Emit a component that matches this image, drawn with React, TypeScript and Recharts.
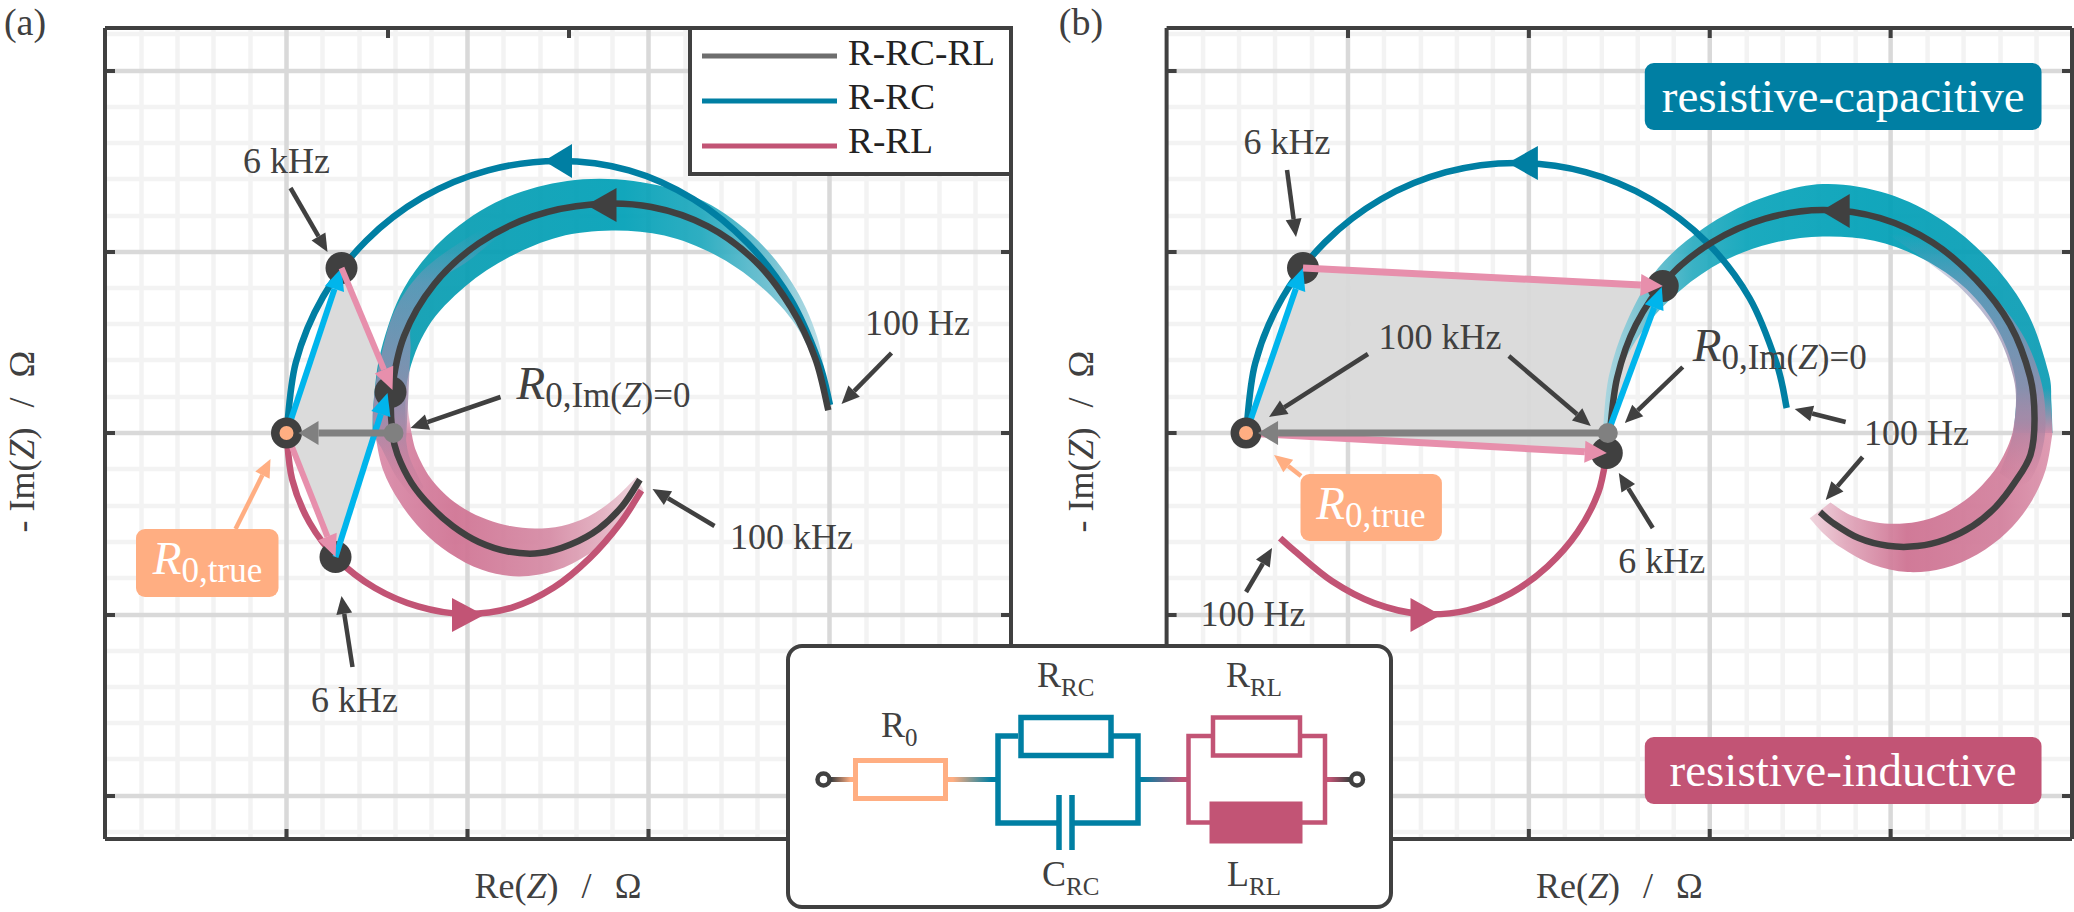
import { ReactNode } from "react";
import {
  CartesianGrid,
  Label,
  Legend,
  ReferenceArea,
  ReferenceDot,
  Scatter,
  ScatterChart,
  XAxis,
  YAxis,
} from "recharts";

// The axes carry no numbers in the figure, so values are in arbitrary units.
type Pair = [number, number];

const majorX = [0, 181, 362, 543];
const majorY = [-363, -182, 0, 181, 362];
const minorX = [-145, -109, -73, -36, 36, 73, 109, 145, 217, 254, 290, 326, 399, 435, 471, 508, 580, 616, 653, 689];
const minorY = [399, 326, 290, 254, 217, 145, 109, 73, 36, -36, -73, -109, -145, -218, -254, -290, -326, -399];
const topTicksA = [101.5, 282.5];

const legendNames = ["R-RC-RL", "R-RC", "R-RL"];

// panel (a)
const rcArcA: Pair[] = [[0, 0], [9.3, 70.4], [36.4, 136], [79.7, 192.3], [136, 235.6], [201.6, 262.7], [272, 272], [342.4, 262.7], [407, 233.8], [461.5, 189.5], [504, 134], [532, 72], [543.5, 28]];
const rlArcA: Pair[] = [[0, 0], [5.6, -46.2], [23, -89.5], [51.4, -126.6], [88.5, -155], [131.5, -173.4], [178, -181], [224.8, -174.8], [267.3, -154.6], [303.2, -125.2], [333.9, -90], [354.9, -57.5]];
const fullArcA: Pair[] = [[541.8, 22.8], [528.9, 74.2], [504.4, 125.6], [469, 171.6], [421.4, 206.6], [364.9, 226], [305, 228.6], [246.2, 216.6], [192.2, 189.6], [147.7, 148.8], [117.5, 96.8], [105, 38.8], [106, 0], [110.9, -21.4], [125, -49.9], [144.3, -73.6], [166.6, -93.4], [192.3, -109], [221.6, -118.5], [253.2, -120.1], [284, -111.5], [312.3, -95.8], [336, -72.8], [353.4, -46.6]];
const rcBandOuterA: Pair[] = [[542.9, 30.6], [530.7, 95.9], [505, 151], [464.4, 199], [410.5, 234.9], [347, 252], [280.6, 252.1], [216, 233.8], [159.8, 196.9], [117.7, 145.1], [94.8, 83.8], [87.3, 33.4], [86, 0]];
const rcBandInnerA: Pair[] = [[119, 0], [121.2, 54.6], [141.4, 106], [178.6, 146.4], [223.2, 176.2], [272.5, 196.1], [325, 202.5], [377.9, 197.5], [428, 178.4], [472.8, 147.8], [509.9, 106.8], [533.6, 55.9], [540.9, 30.3]];
const rlBandOuterA: Pair[] = [[88.5, 0], [96.3, -36.4], [113, -68.8], [135.1, -96.9], [162.7, -119.9], [195.4, -136.7], [232, -143.5], [268.9, -137.6], [302, -121.2], [329.6, -97.6], [350.6, -68.5], [357, -57]];
const rlBandInnerA: Pair[] = [[350, -44], [327, -66.5], [302, -83.5], [275.3, -92.9], [248.8, -95.5], [223.9, -93.1], [200.5, -86.5], [178.7, -76.2], [158.8, -61.4], [141.8, -42], [129.6, -18.1], [125, 0]];
const rlFadeOuterA: Pair[] = [[90, 45], [86, 20], [88.5, 0]];
const rlFadeInnerA: Pair[] = [[125, 0], [122, 20], [120, 45]];
const mixBandOuterA: Pair[] = [[193, 203], [140, 166], [110, 126], [96, 83], [88, 40], [88, 0], [96, -17], [110, -44], [128, -67]];
const mixBandInnerA: Pair[] = [[137, -54], [124, -27], [120, -10], [120, 0], [122, 40], [124, 83], [126, 110], [150, 150], [183, 173], [216, 200]];

const originA: Pair = [0, 0];
const sixKhzHighA: Pair = [55, 165];
const sixKhzMidA: Pair = [104, 41];
const sixKhzLowA: Pair = [49, -124];
const zeroCrossA: Pair = [107, 0];

// panel (b)
const rcArcB: Pair[] = [[-102, 0], [-92.8, 69.9], [-65.8, 135], [-22.9, 190.9], [33, 233.8], [98.1, 260.8], [168, 270], [237.9, 260.8], [303, 233.8], [358.9, 190.9], [401.8, 135], [428.8, 69.9], [439, 25]];
const rlArcB: Pair[] = [[259, -20], [250.6, -59.2], [229.7, -99.2], [199.8, -133.3], [162.8, -160.4], [119.3, -177.3], [72.2, -180.8], [26.1, -170.1], [-15.8, -148.3], [-53, -118.3], [-67.9, -105.1]];
const fullArcB: Pair[] = [[262, 0], [269.3, 55.1], [288, 108], [320.1, 154.9], [364.7, 191], [417.5, 214.4], [475, 223], [532.6, 214.9], [585, 190.5], [628.4, 153.4], [662.5, 108.3], [682.7, 55.6], [687, 14.8], [683, -21.7], [666.9, -49.9], [648.1, -73.9], [625.1, -93], [598.6, -106.2], [569.9, -113.1], [540.1, -112.8], [511, -105.1], [484.8, -89.6], [472.3, -79]];
const rcBandOuterB: Pair[] = [[255, 0], [261.1, 57.3], [279.7, 112.8], [310.2, 164.8], [356.5, 205.2], [412.2, 234.2], [475, 249], [539.2, 239.5], [597, 211.3], [644.7, 169.7], [680.7, 118.8], [701, 60.6], [703.8, 32.1], [705, 0]];
const rcBandInnerB: Pair[] = [[666, 0], [668.2, 51.8], [651.2, 101.8], [618.9, 143.9], [575.5, 174.1], [526.5, 192.2], [475, 196.5], [424.1, 189.8], [375.7, 171.9], [332.5, 142.5], [295.7, 103.5], [269.7, 55], [262, 0]];
const rlBandOuterB: Pair[] = [[705, 0], [698.1, -37], [682.5, -70.8], [659.3, -99.3], [630, -121.2], [596.2, -135.2], [560, -139], [524.8, -131.4], [493.7, -114.8], [475.8, -100.4], [462, -85.3]];
const rlBandInnerB: Pair[] = [[482.7, -69.6], [502.6, -81.9], [527.5, -89.3], [552.1, -90.7], [575.5, -87.6], [597.2, -79.8], [616.9, -67.8], [634.5, -52.2], [650.2, -32.8], [660, -14.1], [665, 0]];
const rlFadeOuterB: Pair[] = [[702, 45], [704, 20], [705, 0]];
const rlFadeInnerB: Pair[] = [[665, 0], [668, 20], [670, 45]];
const mixBandOuterB: Pair[] = [[539, 200], [575, 192], [612, 170], [648, 135], [677, 95], [694, 50], [698, 10], [694, -20], [684, -45], [672, -54]];
const mixBandInnerB: Pair[] = [[652, -40], [663, -10], [668, 20], [666, 55], [648, 102], [615, 143], [579, 172]];

const originB: Pair = [-102, 0];
const sixKhzHighB: Pair = [-45, 165];
const sixKhzMidB: Pair = [315, 147];
const sixKhzLowB: Pair = [259, -20];
const zeroCrossB: Pair = [260, 0];

const INK = "#404040";
const TEAL = "#007fa3";
const ROSE = "#c25475";
const PEACH = "#ffae82";
const CYAN = "#00b5ec";
const PINK = "#e78fac";
const GREY = "#808080";
const SERIF = "'Liberation Serif', serif";

const stopsRcA = [[0, "#0b9cb0"], [0.55, "#00a0b7"], [0.72, "#1fa8bd"], [0.88, "#6fbfd0"], [1, "#c6e3ea"]] as const;
const stopsRlA = [[0, "#d98aa8"], [0.3, "#cf7292"], [0.65, "#d58aa4"], [0.85, "#e2aebf"], [1, "#f0d8e0"]] as const;
const stopsRcB = [[0, "#a9d6e0"], [0.1, "#6cbfcf"], [0.2, "#2bacc0"], [0.32, "#0aa4ba"], [0.6, "#00a0b7"], [1, "#0c9cb4"]] as const;
const stopsRlB = [[0, "#efd3dc"], [0.15, "#e0a6ba"], [0.4, "#cd7090"], [0.8, "#d27f9c"], [1, "#dc94ad"]] as const;
const stopsMix = [[0, "#8c92b8", 0], [0.2, "#8c92b8", 0.6], [0.72, "#a48aa8", 0.95], [1, "#c2708f", 0]] as const;
const stopsFade = [[0, "#d98aa8", 0], [1, "#d98aa8", 1]] as const;

const toPoints = (list: Pair[]) => list.map(([x, y]) => ({ x, y }));
const noDot = () => <g />;

function smooth(p: { x: number; y: number }[]) {
  let d = `M${p[0].x},${p[0].y}`;
  for (let i = 0; i < p.length - 1; i++) {
    const a = p[i - 1] ?? p[i];
    const b = p[i];
    const c = p[i + 1];
    const e = p[i + 2] ?? c;
    d += `C${b.x + (c.x - a.x) / 6},${b.y + (c.y - a.y) / 6} ${c.x - (e.x - b.x) / 6},${c.y - (e.y - b.y) / 6} ${c.x},${c.y}`;
  }
  return d;
}

function arc(key: string, list: Pair[], stroke: string, width = 6.5) {
  return (
    <Scatter
      key={key}
      data={toPoints(list)}
      shape={noDot}
      isAnimationActive={false}
      line={(p: any) => <path d={smooth(p.points)} fill="none" stroke={stroke} strokeWidth={width} />}
    />
  );
}

function band(key: string, first: Pair[], second: Pair[], stops: readonly (readonly [number, string, number?])[], vertical = false) {
  return (
    <Scatter
      key={key}
      data={toPoints([...first, ...second])}
      shape={noDot}
      isAnimationActive={false}
      line={(p: any) => (
        <g>
          <defs>
            <linearGradient id={key} x1="0" y1="0" x2={vertical ? 0 : 1} y2={vertical ? 1 : 0}>
              {stops.map(([o, c, a]) => (
                <stop key={o} offset={o} stopColor={c} stopOpacity={a ?? 1} />
              ))}
            </linearGradient>
          </defs>
          <path
            d={`${smooth(p.points.slice(0, first.length))}L${smooth(p.points.slice(first.length)).slice(1)}Z`}
            fill={`url(#${key})`}
            opacity={0.93}
          />
        </g>
      )}
    />
  );
}

function polygon(key: string, list: Pair[], fill: string) {
  return (
    <Scatter
      key={key}
      data={toPoints(list)}
      shape={noDot}
      isAnimationActive={false}
      line={(p: any) => <polygon points={p.points.map((q: any) => `${q.x},${q.y}`).join(" ")} fill={fill} opacity={0.95} />}
    />
  );
}

function arrow(key: string, from: Pair, to: Pair, color: string, width = 4.5, len = 18, half = 8) {
  return (
    <Scatter
      key={key}
      data={toPoints([from, to])}
      shape={noDot}
      isAnimationActive={false}
      line={(p: any) => {
        const [a, b] = p.points;
        const l = Math.hypot(b.x - a.x, b.y - a.y);
        const ux = (b.x - a.x) / l;
        const uy = (b.y - a.y) / l;
        const bx = b.x - ux * len;
        const by = b.y - uy * len;
        return (
          <g>
            {width > 0 && <line x1={a.x} y1={a.y} x2={bx} y2={by} stroke={color} strokeWidth={width} />}
            <polygon points={`${b.x},${b.y} ${bx - uy * half},${by + ux * half} ${bx + uy * half},${by - ux * half}`} fill={color} />
          </g>
        );
      }}
    />
  );
}

function dot(key: string, at: Pair, r: number, fill: string) {
  return (
    <Scatter
      key={key}
      data={toPoints([at])}
      isAnimationActive={false}
      shape={(p: any) => <circle cx={p.cx} cy={p.cy} r={r} fill={fill} />}
    />
  );
}

function note(key: string, at: Pair, body: ReactNode, size = 36, fill = INK, anchor = "middle") {
  return (
    <ReferenceDot
      key={key}
      x={at[0]}
      y={at[1]}
      r={0}
      shape={(p: any) => (
        <text x={p.cx} y={p.cy} textAnchor={anchor} dominantBaseline="central" fontFamily={SERIF} fontSize={size} fill={fill}>
          {body}
        </text>
      )}
    />
  );
}

const rZeroIm = (
  <>
    <tspan fontStyle="italic">R</tspan>
    <tspan fontSize={35} dy={12}>0,Im(<tspan fontStyle="italic">Z</tspan>)=0</tspan>
  </>
);
const rZeroTrue = (
  <>
    <tspan fontStyle="italic">R</tspan>
    <tspan fontSize={35} dy={12}>0,true</tspan>
  </>
);

function box(key: string, x1: number, x2: number, y1: number, y2: number, fill: string) {
  return (
    <ReferenceArea
      key={key}
      x1={x1}
      x2={x2}
      y1={y1}
      y2={y2}
      fill={fill}
      fillOpacity={1}
      stroke="none"
      shape={(p: any) => <rect x={p.x} y={p.y} width={p.width} height={p.height} rx={9} fill={fill} />}
    />
  );
}

const xTitle = (p: any) => (
  <text x={p.viewBox.x + p.viewBox.width / 2} y={p.viewBox.y + 60} textAnchor="middle" fontFamily={SERIF} fontSize={36} fill={INK}>
    Re(<tspan fontStyle="italic">Z</tspan>) <tspan dx={14}>/</tspan> <tspan dx={14}>Ω</tspan>
  </text>
);

function yTitle(at: number) {
  return (p: any) => {
    const cy = p.viewBox.y + p.viewBox.height / 2 + 8;
    return (
      <text x={at} y={cy} transform={`rotate(-90 ${at} ${cy})`} textAnchor="middle" dominantBaseline="central" fontFamily={SERIF} fontSize={36} fill={INK}>
        - Im(<tspan fontStyle="italic">Z</tspan>) <tspan dx={11}>/</tspan> <tspan dx={11}>Ω</tspan>
      </text>
    );
  };
}

function LegendBox() {
  const colors = ["#6e6e6e", TEAL, ROSE];
  return (
    <svg width={325} height={150} style={{ display: "block" }}>
      <rect x={2} y={2} width={321} height={146} fill="#fff" stroke={INK} strokeWidth={4} />
      {legendNames.map((name, i) => (
        <g key={name}>
          <line x1={14} x2={149} y1={30 + i * 45} y2={30 + i * 45} stroke={colors[i]} strokeWidth={5} />
          <text x={160} y={39 + i * 44} fontFamily={SERIF} fontSize={35} fill="#222" textLength={[147, 87, 85][i]} lengthAdjust="spacingAndGlyphs">
            {name}
          </text>
        </g>
      ))}
    </svg>
  );
}

function Frame({
  left,
  width,
  marginLeft,
  marginRight,
  topTicks,
  titleAt,
  children,
  legend,
}: {
  left: number;
  width: number;
  marginLeft: number;
  marginRight: number;
  topTicks: number[];
  titleAt: number;
  children: ReactNode;
  legend?: boolean;
}) {
  const xProps = { type: "number" as const, dataKey: "x", domain: [-181.5, 724.5], allowDataOverflow: true, height: 1, interval: 0 as const, tick: noDot, mirror: true, tickSize: 10 };
  const yProps = { type: "number" as const, dataKey: "y", domain: [-406, 405], allowDataOverflow: true, width: 1, interval: 0 as const, tick: noDot, mirror: true, tickSize: 10, ticks: majorY };
  const stroke = { stroke: INK, strokeWidth: 4 };
  return (
    <div style={{ position: "absolute", left, top: 0 }}>
      <ScatterChart width={width} height={912} margin={{ top: 28, right: marginRight, bottom: 73, left: marginLeft }}>
        <CartesianGrid horizontalValues={minorY} verticalValues={minorX} stroke="#f3f3f3" strokeWidth={4.5} />
        <CartesianGrid horizontalValues={majorY} verticalValues={majorX} stroke="#d9d9d9" strokeWidth={4.5} />
        <XAxis {...xProps} ticks={majorX} axisLine={stroke} tickLine={stroke}>
          <Label content={xTitle} />
        </XAxis>
        <XAxis {...xProps} xAxisId="top" orientation="top" ticks={topTicks} axisLine={stroke} tickLine={stroke} />
        <YAxis {...yProps} axisLine={stroke} tickLine={stroke}>
          <Label content={yTitle(titleAt)} />
        </YAxis>
        <YAxis {...yProps} yAxisId="right" orientation="right" axisLine={stroke} tickLine={stroke} />
        {children}
        {legend && (
          <Legend
            layout="vertical"
            align="center"
            verticalAlign="middle"
            content={() => <LegendBox />}
            wrapperStyle={{ left: 688, top: 26, width: 325, height: 150 }}
          />
        )}
      </ScatterChart>
    </div>
  );
}

function Circuit() {
  const wires: [string, number, number, string, string][] = [
    ["w1", 829, 853, INK, PEACH],
    ["w2", 948, 996, PEACH, TEAL],
    ["w3", 1138, 1187, TEAL, ROSE],
    ["w4", 1327, 1352, ROSE, INK],
  ];
  const big = { fontFamily: SERIF, fontSize: 36, fill: INK };
  return (
    <svg width={2074} height={912} style={{ position: "absolute", left: 0, top: 0, pointerEvents: "none" }}>
      <defs>
        {wires.map(([id, x1, x2, a, b]) => (
          <linearGradient key={id} id={id} gradientUnits="userSpaceOnUse" x1={x1} x2={x2} y1={0} y2={0}>
            <stop offset={0.1} stopColor={a} />
            <stop offset={0.9} stopColor={b} />
          </linearGradient>
        ))}
      </defs>
      <text x={25} y={35} textAnchor="middle" fontFamily={SERIF} fontSize={38} fill={INK}>(a)</text>
      <text x={1081} y={35} textAnchor="middle" fontFamily={SERIF} fontSize={38} fill={INK}>(b)</text>
      <rect x={788} y={646} width={603} height={261} rx={14} fill="#fff" stroke={INK} strokeWidth={4} />
      {wires.map(([id, x1, x2]) => (
        <rect key={id} x={x1} y={777} width={x2 - x1} height={5} fill={`url(#${id})`} />
      ))}
      <circle cx={823.5} cy={779.5} r={6} fill="#fff" stroke={INK} strokeWidth={4.5} />
      <circle cx={1357} cy={779.5} r={6} fill="#fff" stroke={INK} strokeWidth={4.5} />
      <rect x={855.5} y={760.5} width={90} height={38} fill="#fff" stroke={PEACH} strokeWidth={5} />
      <g fill="none" stroke={TEAL} strokeWidth={5.5}>
        <path d="M1018,736H998V823H1059M1071,823H1138V736H1113" />
        <rect x={1021} y={717.5} width={90} height={38} />
        <path d="M1059,795V850M1072,795V850" />
      </g>
      <g fill="none" stroke={ROSE} strokeWidth={4.5}>
        <path d="M1211,736H1188.5V822.5H1210M1302,822.5H1325V736H1301" />
        <rect x={1213} y={717.5} width={87} height={38} />
      </g>
      <rect x={1209.5} y={801.5} width={93} height={42} fill={ROSE} />
      <text x={881} y={737} {...big}>R<tspan fontSize={25} dy={9}>0</tspan></text>
      <text x={1037} y={687} {...big}>R<tspan fontSize={25} dy={9}>RC</tspan></text>
      <text x={1226} y={687} {...big}>R<tspan fontSize={25} dy={9}>RL</tspan></text>
      <text x={1042} y={886} {...big}>C<tspan fontSize={25} dy={9}>RC</tspan></text>
      <text x={1227} y={886} {...big}>L<tspan fontSize={25} dy={9}>RL</tspan></text>
    </svg>
  );
}

export default function App() {
  return (
    <div style={{ position: "absolute", left: 0, top: 0, width: 2074, height: 912, overflow: "hidden", background: "#fff" }}>
      <Frame left={0} width={1040} marginLeft={105} marginRight={29} topTicks={topTicksA} titleAt={22} legend>
        {polygon("shadeA", [originA, sixKhzHighA, sixKhzMidA, sixKhzLowA], "#d9d9d9")}
        {band("rcA", rcBandOuterA, rcBandInnerA, stopsRcA)}
        {band("fadeA", rlFadeOuterA, rlFadeInnerA, stopsFade, true)}
        {band("rlA", rlBandOuterA, rlBandInnerA, stopsRlA)}
        {band("mixA", mixBandOuterA, mixBandInnerA, stopsMix, true)}
        {arc("rcArcA", rcArcA, TEAL)}
        {arc("rlArcA", rlArcA, ROSE)}
        {arc("fullArcA", fullArcA, INK)}
        {arrow("headRcA", [285.5, 272], [257.5, 272], TEAL, 0, 28, 17)}
        {arrow("headFullA", [330, 228], [300, 228], INK, 0, 30, 17)}
        {arrow("headRlA", [165.5, -182], [197.5, -182], ROSE, 0, 32, 17)}
        {dot("highA", sixKhzHighA, 16, INK)}
        {dot("midA", sixKhzMidA, 16, INK)}
        {dot("lowA", sixKhzLowA, 16, INK)}
        {arrow("cyanA1", originA, sixKhzHighA, CYAN, 6, 22, 10)}
        {arrow("cyanA2", sixKhzLowA, [101, 40], CYAN, 6, 22, 10)}
        {arrow("pinkA1", sixKhzHighA, [106, 43], PINK, 6, 22, 10)}
        {arrow("pinkA2", originA, sixKhzLowA, PINK, 6, 22, 10)}
        {dot("originA", originA, 15.5, INK)}
        {dot("crossA", zeroCrossA, 10, GREY)}
        {arrow("greyA", zeroCrossA, [12, 0], GREY, 7, 20, 12)}
        {dot("originInA", originA, 7, PEACH)}
        {arrow("noteA1", [4, 245], [41, 181], INK)}
        {arrow("noteA2", [605, 80], [555, 29], INK)}
        {arrow("noteA3", [214, 36], [124, 5], INK)}
        {arrow("noteA4", [428, -93], [366, -56], INK)}
        {arrow("noteA5", [66, -234], [55, -163], INK)}
        {arrow("noteA6", [-51, -96], [-16, -26], PEACH)}
        {box("trueA", -150.5, -8, -164, -96, PEACH)}
        {note("l6a", [0, 272], "6 kHz")}
        {note("l100a", [631, 110], "100 Hz")}
        {note("l100ka", [505, -104], "100 kHz")}
        {note("l6la", [68, -267], "6 kHz")}
        {note("lr0a", [230, 50], rZeroIm, 47, INK, "start")}
        {note("ltruea", [-79, -125], rZeroTrue, 47, "#fff")}
      </Frame>
      <Frame left={1040} width={1034} marginLeft={126.6} marginRight={2} topTicks={majorX} titleAt={41}>
        {polygon("shadeB", [originB, sixKhzHighB, sixKhzMidB, zeroCrossB, sixKhzLowB], "#d9d9d9")}
        {band("rcB", rcBandOuterB, rcBandInnerB, stopsRcB)}
        {band("fadeB", rlFadeOuterB, rlFadeInnerB, stopsFade, true)}
        {band("rlB", rlBandOuterB, rlBandInnerB, stopsRlB)}
        {band("mixB", mixBandOuterB, mixBandInnerB, stopsMix, true)}
        {arc("rcArcB", rcArcB, TEAL)}
        {arc("rlArcB", rlArcB, ROSE)}
        {arc("fullArcB", fullArcB, INK)}
        {arrow("headRcB", [190, 270], [160, 270], TEAL, 0, 30, 17)}
        {arrow("headFullB", [502, 222], [473.5, 222], INK, 0, 28.5, 17)}
        {arrow("headRlB", [62.6, -182], [93, -182], ROSE, 0, 30.4, 17)}
        {dot("highB", sixKhzHighB, 16, INK)}
        {dot("midB", sixKhzMidB, 16, INK)}
        {dot("lowB", sixKhzLowB, 16, INK)}
        {arrow("cyanB1", originB, sixKhzHighB, CYAN, 6, 22, 10)}
        {arrow("cyanB2", zeroCrossB, [314, 146], CYAN, 6, 22, 10)}
        {arrow("pinkB1", sixKhzHighB, [315, 147], PINK, 7, 22, 11)}
        {arrow("pinkB2", originB, sixKhzLowB, PINK, 7, 22, 11)}
        {dot("originB", originB, 15.5, INK)}
        {dot("crossB", zeroCrossB, 10, GREY)}
        {arrow("greyB", zeroCrossB, [-90, 0], GREY, 7, 20, 12)}
        {dot("originInB", originB, 7, PEACH)}
        {arrow("noteB1", [-61, 263], [-52, 196], INK)}
        {arrow("noteB2", [335, 66], [277, 10], INK)}
        {arrow("noteB3", [20, 79], [-79, 16], INK)}
        {arrow("noteB4", [161, 77], [243, 7], INK)}
        {arrow("noteB5", [498, 11], [447, 24], INK)}
        {arrow("noteB6", [515, -24], [478, -67], INK)}
        {arrow("noteB7", [305, -95], [271, -40], INK)}
        {arrow("noteB8", [-102, -159], [-76, -115], INK)}
        {arrow("noteB9", [-47, -43], [-74, -22], PEACH)}
        {box("trueB", -47.5, 94, -108, -41, PEACH)}
        {box("capB", 297, 694, 303, 370, TEAL)}
        {box("indB", 297, 694, -371, -304, ROSE)}
        {note("l6b", [-61, 291], "6 kHz")}
        {note("l100kb", [92, 96], "100 kHz")}
        {note("l100b", [569, 0], "100 Hz")}
        {note("l6lb", [314, -128], "6 kHz")}
        {note("l100lb", [-95, -181], "100 Hz")}
        {note("lr0b", [345, 88], rZeroIm, 47, INK, "start")}
        {note("ltrueb", [23, -70], rZeroTrue, 47, "#fff")}
        {note("capText", [495.5, 337], "resistive-capacitive", 47, "#fff")}
        {note("indText", [495.5, -337], "resistive-inductive", 47, "#fff")}
      </Frame>
      <Circuit />
    </div>
  );
}
